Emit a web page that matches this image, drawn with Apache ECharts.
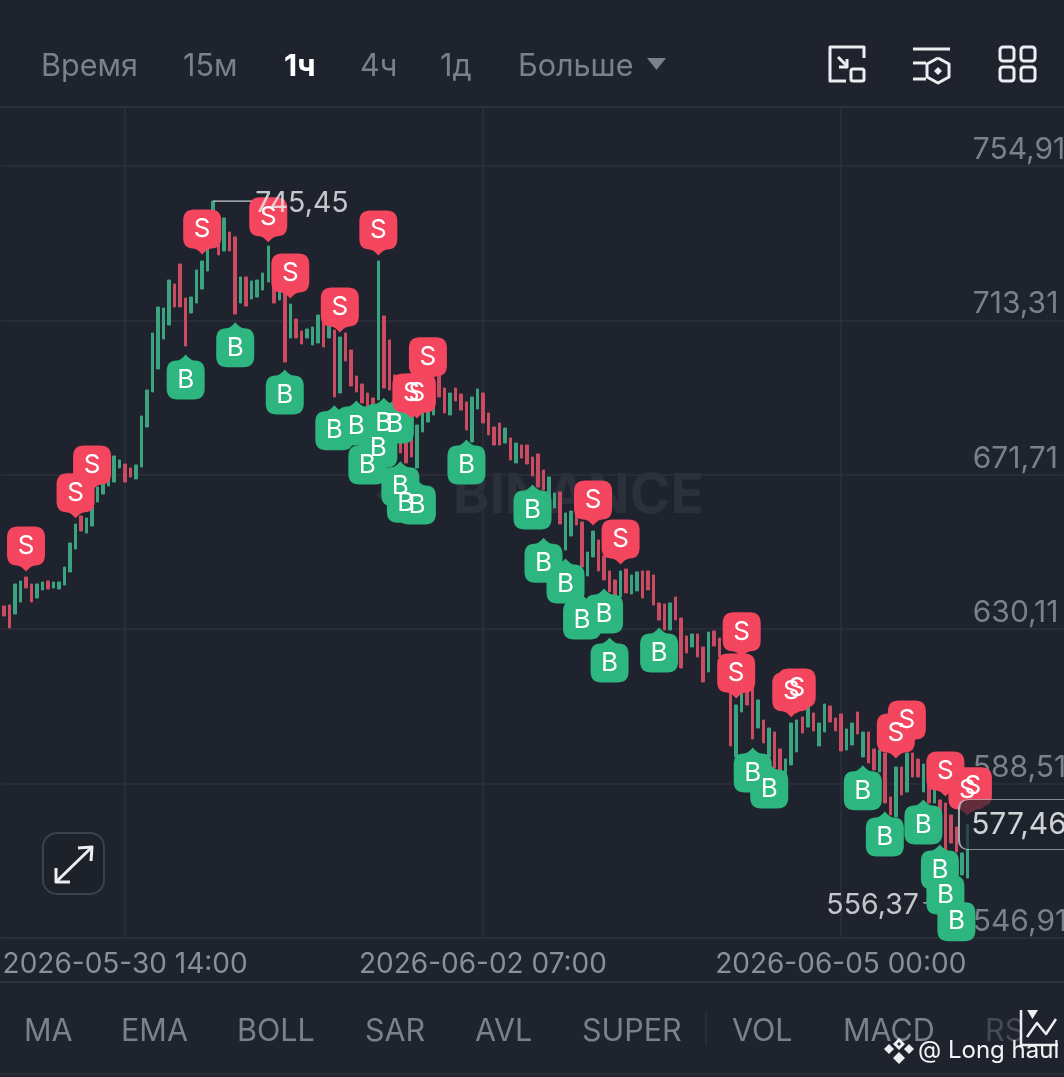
<!DOCTYPE html>
<html><head><meta charset="utf-8">
<style>html,body{margin:0;padding:0;background:#1e232d}#c{width:1064px;height:1077px}</style>
<script src="https://cdn.jsdelivr.net/npm/echarts@6/dist/echarts.min.js"></script>
</head><body><div id="c"></div>
<script>
const candleLow=[633.67,630.44,634.21,637.44,641.22,637.44,638.52,640.68,640.95,641.22,640.95,642.02,645.53,651.72,656.57,656.03,657.92,664.39,666.54,668.70,669.77,673.55,669.77,671.12,670.58,673.82,684.59,694.02,700.22,708.30,712.08,716.93,716.93,706.42,715.31,718.00,721.77,726.62,734.98,730.94,732.01,732.01,715.04,718.00,717.19,719.08,719.62,721.51,723.66,718.00,718.81,702.11,708.57,708.57,706.96,708.57,706.69,707.23,706.15,708.57,692.68,693.75,702.38,695.64,694.02,691.06,688.64,686.48,691.87,695.10,694.56,689.17,677.59,674.90,676.51,673.55,683.25,685.94,687.83,692.68,688.37,687.83,691.60,689.17,683.79,680.55,689.44,685.67,682.44,679.74,679.74,680.28,675.70,674.90,676.24,674.62,671.39,668.43,667.62,665.73,662.77,658.46,651.45,655.23,658.19,646.87,644.45,649.57,645.80,643.37,640.14,637.98,638.79,639.87,639.60,640.41,638.52,640.68,636.64,632.59,629.90,629.90,632.59,619.66,623.70,625.32,622.62,615.89,618.58,625.59,622.62,616.43,598.65,595.68,607.81,609.69,600.53,603.50,599.45,595.68,592.72,592.18,591.37,593.53,597.03,602.15,603.76,602.69,598.65,602.42,605.11,602.69,597.30,597.57,598.91,601.88,595.68,594.06,592.18,591.64,583.29,580.05,579.52,585.44,586.25,590.29,590.29,586.25,583.29,583.29,579.52,556.37,572.51,570.09,563.89,563.08];
const candleHigh=[636.37,636.64,642.29,643.10,644.18,642.29,642.29,642.83,643.10,642.83,642.83,646.87,653.34,658.46,660.61,660.08,663.04,668.43,669.77,670.85,676.78,675.70,674.62,673.55,674.36,687.56,694.56,709.92,716.93,716.66,724.20,723.12,728.51,719.35,719.62,726.89,729.32,732.82,745.45,734.98,740.90,737.13,735.79,725.01,725.01,723.93,724.20,726.09,733.36,722.31,721.51,720.70,717.73,713.69,710.46,711.00,711.54,714.77,712.88,712.34,710.73,708.84,709.92,705.34,698.33,696.18,693.75,692.41,729.32,714.50,708.03,698.60,691.87,684.59,684.59,685.13,688.37,688.64,695.91,698.60,695.10,693.75,695.10,693.49,691.33,692.68,694.83,693.75,688.37,684.59,685.67,684.32,681.63,680.28,679.74,679.74,676.51,677.32,673.01,671.12,666.81,667.08,661.42,661.96,664.12,659.00,650.91,656.57,654.15,649.84,645.80,643.37,645.80,646.33,644.72,645.53,645.80,645.80,644.72,637.17,636.90,637.17,638.79,633.13,628.28,628.82,628.82,625.32,629.36,629.63,627.74,623.16,613.73,609.69,612.93,614.27,614.54,611.04,605.65,603.50,602.42,597.84,595.14,604.84,605.65,606.46,609.42,607.54,604.84,609.96,609.42,606.19,607.27,603.23,604.84,607.81,602.42,602.42,597.84,597.57,596.76,584.90,592.99,592.99,596.76,596.76,595.14,593.79,588.14,587.33,584.10,583.29,580.05,576.82,569.82,577.46];
const candleUp=[0,0,1,1,0,0,1,1,0,1,1,1,1,1,0,1,1,1,1,1,1,1,0,0,1,1,1,1,1,1,1,0,0,0,1,1,1,1,1,0,1,0,0,1,0,1,1,1,1,0,1,0,1,0,0,1,1,1,0,1,0,1,0,0,0,0,0,0,1,0,0,0,0,0,0,1,1,1,1,0,0,1,0,0,0,1,1,0,0,0,0,1,0,1,0,0,0,0,0,1,1,0,1,1,0,0,1,1,0,0,0,0,1,0,1,1,0,0,0,0,0,1,0,0,0,1,0,0,1,0,0,0,0,1,1,0,0,1,0,1,0,0,1,1,1,0,1,0,1,1,0,0,0,1,1,0,1,0,0,1,0,0,1,0,1,0,0,1,0,1,0,0,0,0,1,1];
const sellPoints=[[4,645.66],[13,660.02],[16,667.48],[36,731.07],[48,734.38],[52,719.22],[61,710.05],[68,730.80],[74,686.88],[75,686.88],[77,696.66],[107,658.05],[112,647.55],[134,622.57],[133,611.44],[143,606.41],[144,607.40],[162,595.28],[164,598.78],[171,585.04],[175,579.92],[176,580.81]];
const buyPoints=[[33,704.13],[42,712.83],[51,700.09],[60,690.47],[64,691.73],[69,692.46],[71,692.27],[68,685.73],[66,681.23],[72,675.38],[73,670.91],[75,670.45],[84,681.23],[96,669.10],[98,654.74],[102,649.16],[105,639.46],[109,641.08],[110,627.88],[119,630.57],[136,598.24],[139,593.93],[156,593.47],[160,581.00],[167,584.23],[170,572.11],[171,565.37],[173,558.18]];
const priceTicks=[546.91,588.51,630.11,671.71,713.31,754.91];
const highestPrice=745.45, highestIndex=38, highestLeaderEnd=45;
const lowestPrice=556.37, lowestIndex=171, lowestLeaderEnd=167;
const lastPrice=577.46, lastPriceSlot=184;
const barCount=193;
const startTime=Date.UTC(2026,4,29,16);
const timeTickPhase=22, timeTickStep=65;
const pad=n=>String(n).padStart(2,'0');
const categories=Array.from({length:barCount},(_,i)=>{const d=new Date(startTime+i*3600000);return `${d.getUTCFullYear()}-${pad(d.getUTCMonth()+1)}-${pad(d.getUTCDate())} ${pad(d.getUTCHours())}:00`;});
const candles=candleLow.map((l,i)=>{const h=candleHigh[i];return candleUp[i]?[l,h,l,h]:[h,l,l,h];});
const comma=v=>Number(v).toFixed(2).replace('.',',');
const isTimeTick=i=>i>=timeTickPhase&&(i-timeTickPhase)%timeTickStep===0;

const BG='#1e232d',GRID='#2c313a',MUTED='#7b818b',WHITE='#eceef1';
const FONT='Inter,"Noto Sans",sans-serif';
const SELL_PATH='path://M11 0H27Q38 0 38 11V28Q38 39 28 39Q24 39 19 45Q14 39 10 39Q0 39 0 28V11Q0 0 11 0Z';
const BUY_PATH='path://M19 0Q24 6 28 6Q38 6 38 17V34Q38 45 27 45H11Q0 45 0 34V17Q0 6 10 6Q14 6 19 0Z';
const PRICE_BOX='path://M10 0H106Q116 0 116 10V40Q116 50 106 50H10Q0 50 0 40V10Q0 0 10 0Z';

const topTabs=[['Время',41,0],['15м',183,0],['1ч',284,1],['4ч',360,0],['1д',440,0],['Больше',518,0]];
const indicators=[['MA',24],['EMA',121],['BOLL',237],['SAR',365],['AVL',475],['SUPER',582],['VOL',732],['MACD',843]];
const ln=(x1,y1,x2,y2,color,w,z)=>({type:'line',shape:{x1,y1,x2,y2},style:{stroke:color,lineWidth:w},z:z||5,silent:true});
const rr=(x,y,width,height,r,stroke,w,fill,z)=>({type:'rect',shape:{x,y,width,height,r},style:{stroke,lineWidth:w,fill:fill||'transparent'},z:z||5,silent:true});
const pl=(points,stroke,w,z)=>({type:'polyline',shape:{points},style:{stroke,lineWidth:w,fill:'transparent',lineJoin:'round'},z:z||5,silent:true});
const pg=(points,fill,z)=>({type:'polygon',shape:{points},style:{fill},z:z||5,silent:true});
const tx=(text,x,y,fill,font,z)=>({type:'text',x,y,style:{text,fill,font,verticalAlign:'middle',align:'left'},z:z||5,silent:true});
const graphics=[
  ln(0,107,1064,107,GRID,2),ln(0,982,1064,982,GRID,2),ln(0,1074,1064,1074,GRID,1.5),
  ...topTabs.map(([t,x,a])=>tx(t,x,67,a?'#ffffff':MUTED,(a?'700 ':'400 ')+`30.5px ${FONT}`)),
  pg([[647,58],[666,58],[656.5,70]],MUTED),
  // screen icon
  pl([[864,58],[864,47],[830,47],[830,81],[846,81]],WHITE,3),
  pl([[838,57],[847,66]],WHITE,3),pl([[839,67],[847,67],[847,59]],WHITE,3),
  rr(851,69,13,12,2,WHITE,3),
  // settings icon
  ln(913,49,950,49,WHITE,3),ln(913,63,926,63,WHITE,3),ln(913,79,926,79,WHITE,3),
  pl([[938,58],[949,64],[949,77],[938,83],[927,77],[927,64],[938,58]],WHITE,3),
  pg([[938,67],[942,71],[938,75],[934,71]],WHITE),
  // layout icon
  rr(1000,47,14,14,3,WHITE,3),rr(1021,47,14,14,3,WHITE,3),rr(1000,67,14,14,3,WHITE,3),rr(1021,67,14,14,3,WHITE,3),
  // exchange watermark
  {type:'text',x:453,y:496,style:{text:'BINANCE',fill:'#2b303a',font:`700 55px ${FONT}`,verticalAlign:'middle',align:'left'},z:-1,silent:true},
  pg([[402,470],[428,495],[402,520],[376,495]],'#2b303a',-1),
  pg([[402,484],[413,495],[402,506],[391,495]],BG,-1),
  // expand button
  rr(43,833,61,61,14,'#3c424c',2,'#1c212a',6),
  pl([[57,881],[91,848]],WHITE,3,7),pl([[78,848],[92,847],[91,861]],WHITE,3,7),pl([[56,868],[56,882],[70,882]],WHITE,3,7),
  // indicator bar
  ...indicators.map(([t,x])=>tx(t,x,1032,MUTED,`400 30.5px ${FONT}`)),
  tx('RS',985,1032,'#454a53',`400 30.5px ${FONT}`),
  ln(706,1012,706,1045,GRID,1.5),
  pl([[1021,1010],[1021,1045],[1058,1045]],WHITE,2.5,8),pg([[1027,1010],[1038,1010],[1032.5,1019]],WHITE,8),
  pl([[1027,1037],[1037,1023],[1046,1034],[1056,1019]],WHITE,2.5,8),
  // author watermark
  pg([[899,1038],[905,1044],[899,1050],[893,1044]],WHITE,9),pg([[899,1042],[901,1044],[899,1046],[897,1044]],'#1e232d',9),
  pg([[889,1044],[894,1049],[889,1054],[884,1049]],WHITE,9),pg([[909,1044],[914,1049],[909,1054],[904,1049]],WHITE,9),
  pg([[899,1052],[905,1058],[899,1064],[893,1058]],WHITE,9),
  tx('@ Long haul',918,1051,'#f2f3f5',`400 24px ${FONT}`,9)
];

const marker=(name,data,path,letter,off,labelOff,color)=>({
  name,type:'scatter',data,symbol:path,symbolSize:[38,45],symbolOffset:[0,off],z:4,
  itemStyle:{color,opacity:1},
  label:{show:true,position:'inside',formatter:letter,color:'#ffffff',fontSize:26,fontFamily:FONT,offset:[0,labelOff],fontWeight:400},
  emphasis:{disabled:true},animation:false
});
const option={
  backgroundColor:BG,animation:false,
  grid:{left:1.25,right:0.25,top:107,bottom:139,containLabel:false,outerBoundsMode:'none'},
  xAxis:{type:'category',data:categories,boundaryGap:true,
    axisLine:{show:true,lineStyle:{color:GRID,width:1.5}},
    axisTick:{show:false,alignWithLabel:true,interval:i=>isTimeTick(i)},
    splitLine:{show:true,alignWithLabel:true,interval:i=>isTimeTick(i),lineStyle:{color:GRID,width:1.5}},
    axisLabel:{interval:i=>isTimeTick(i),color:'#8a9099',fontSize:28,fontFamily:FONT,margin:13,hideOverlap:false}},
  yAxis:{type:'value',position:'right',min:546.91,max:770.81,
    axisLine:{show:false},
    axisTick:{show:false,customValues:priceTicks},
    splitLine:{show:true,lineStyle:{color:GRID,width:1.5}},
    axisLabel:{customValues:priceTicks,inside:true,margin:91,align:'left',verticalAlign:'bottom',lineHeight:32,color:MUTED,fontSize:30,fontFamily:FONT,formatter:comma}},
  series:[
    {name:'price',type:'candlestick',data:candles,barWidth:3,z:2,
      itemStyle:{color:'#3ca381',color0:'#c94c62',borderColor:'#3ca381',borderColor0:'#c94c62',borderWidth:1},emphasis:{disabled:true}},
    marker('buy',buyPoints,BUY_PATH,'B',22.5,3,'#2db67f'),
    marker('sell',sellPoints,SELL_PATH,'S',-22.5,-3,'#f4465e'),
    {name:'highLeader',type:'line',data:[[highestIndex,highestPrice],[highestLeaderEnd,highestPrice]],showSymbol:false,z:5,lineStyle:{color:'#c9cdd2',width:1.3},silent:true},
    {name:'lowLeader',type:'line',data:[[lowestIndex,lowestPrice],[lowestLeaderEnd,lowestPrice]],showSymbol:false,z:3,lineStyle:{color:'#c9cdd2',width:1.3},silent:true},
    {name:'highLabel',type:'scatter',data:[[highestLeaderEnd,highestPrice]],symbolSize:1,z:6,itemStyle:{color:'rgba(0,0,0,0)'},silent:true,
      label:{show:true,position:'right',distance:3,offset:[0,2],formatter:p=>comma(p.value[1]),color:'#eef0f2',fontSize:28.5,fontFamily:FONT}},
    {name:'lowLabel',type:'scatter',data:[[lowestLeaderEnd,lowestPrice]],symbolSize:1,z:6,itemStyle:{color:'rgba(0,0,0,0)'},silent:true,
      label:{show:true,position:'left',distance:4,offset:[0,3],formatter:p=>comma(p.value[1]),color:'#eef0f2',fontSize:28.5,fontFamily:FONT}},
    {name:'lastPrice',type:'scatter',data:[[lastPriceSlot,lastPrice]],symbol:PRICE_BOX,symbolSize:[116,50],z:7,clip:false,silent:true,
      itemStyle:{color:'rgba(30,35,45,0.85)',borderColor:'#c9cdd2',borderWidth:1.3},
      label:{show:true,position:'inside',offset:[2,0],formatter:p=>comma(p.value[1]),color:'#ffffff',fontSize:30,fontFamily:FONT}}
  ],
  graphic:graphics
};
const chart=echarts.init(document.getElementById('c'),null,{renderer:'canvas'});
chart.setOption(option);
</script></body></html>
